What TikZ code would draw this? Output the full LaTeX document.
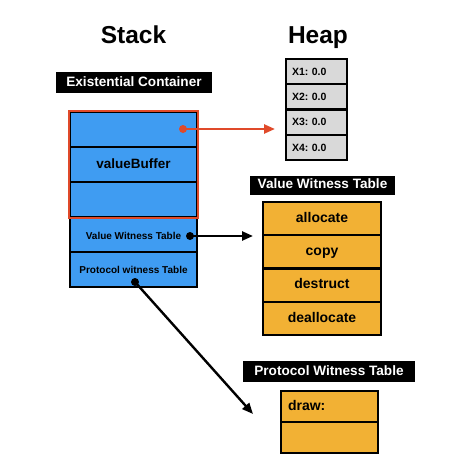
\documentclass[tikz,border=0pt]{standalone}
\usepackage{fontspec}
\setmainfont{Liberation Sans}
\usepackage{xcolor}
\usetikzlibrary{arrows.meta}

\definecolor{stackblue}{HTML}{3F9CF2}
\definecolor{tableorange}{HTML}{F2B134}
\definecolor{heapgray}{HTML}{D9D9D9}
\definecolor{bufferred}{HTML}{E04A2A}

\tikzset{
  cell/.style={draw, line width=2.4pt, text height=0.72em, text depth=0pt},
  stackrow/.style={cell, fill=stackblue, minimum width=127pt, minimum height=35pt, inner sep=0pt},
  heaprow/.style={cell, fill=heapgray, text width=49pt, align=left, inner xsep=6pt, minimum height=25.25pt, inner ysep=0pt, font=\bfseries\fontsize{10.5}{12}\selectfont},
  vwtrow/.style={cell, fill=tableorange, minimum width=118pt, minimum height=33.25pt, inner sep=0pt, font=\bfseries\fontsize{14}{16}\selectfont},
  pwtrow/.style={cell, fill=tableorange, text width=83pt, align=left, inner xsep=7pt, minimum height=31pt, inner ysep=0pt, font=\bfseries\fontsize{14}{16}\selectfont},
  tag/.style={fill=black, text=white, inner sep=0pt, text height=0.72em, text depth=0pt, font=\bfseries\fontsize{13.6}{15}\selectfont},
  heading/.style={font=\bfseries\fontsize{24.5}{28}\selectfont, anchor=base},
  dotmark/.style={circle, fill=black, inner sep=0pt, minimum size=8pt},
  link/.style={line width=2.4pt, -{Triangle[length=11pt, width=9pt]}}
}
\frenchspacing

\begin{document}
\begin{tikzpicture}[x=1pt, y=-1pt]
\useasboundingbox[fill=white] (0,0) rectangle (474,474);

% headings
\node[heading] (stack) at (133.5,43) {Stack};
\node[heading] (heap) at (318,43) {Heap};

% existential container
\node[tag, minimum width=156pt, minimum height=21pt] (ectag) at (134,82.5) {Existential Container};
\node[stackrow] (s1) at (133.5,129.5) {};
\node[stackrow, font=\bfseries\fontsize{13.5}{15}\selectfont] (s2) at (133.5,164.5) {valueBuffer};
\node[stackrow] (s3) at (133.5,199.5) {};
\node[stackrow, font=\bfseries\fontsize{10}{12}\selectfont] (s4) at (133.5,235.5) {Value Witness Table};
\node[stackrow, font=\bfseries\fontsize{10}{12}\selectfont] (s5) at (133.5,269.5) {Protocol witness Table};
\draw[bufferred, line width=2.4pt] (s1.north west) rectangle (s3.south east);

% heap
\node[heaprow] (h1) at (316.5,71.6) {X1: 0.0};
\node[heaprow] (h2) at (316.5,96.9) {X2: 0.0};
\node[heaprow] (h3) at (316.5,122.1) {X3: 0.0};
\node[heaprow] (h4) at (316.5,147.4) {X4: 0.0};

% value witness table
\node[tag, minimum width=145pt, minimum height=19pt] (vwttag) at (322.5,185) {Value Witness Table};
\node[vwtrow] (v1) at (322,218.6) {allocate};
\node[vwtrow] (v2) at (322,251.9) {copy};
\node[vwtrow] (v3) at (322,285.1) {destruct};
\node[vwtrow] (v4) at (322,318.4) {deallocate};

% protocol witness table
\node[tag, minimum width=172pt, minimum height=21pt] (pwttag) at (329,371.5) {Protocol Witness Table};
\node[pwtrow] (p1) at (329.5,406.5) {draw:};
\node[pwtrow] (p2) at (329.5,437.5) {};

% pointers
\coordinate (heapin) at (275,129);
\coordinate (vwtin) at (253,236);
\coordinate (pwtin) at (253,414);
\node[dotmark, fill=bufferred] (bufdot) at (183,129) {};
\node[dotmark] (vwtdot) at (190,236) {};
\node[dotmark] (pwtdot) at (135,282) {};

\draw[link, bufferred] (bufdot.center) -- (heapin);
\draw[link] (vwtdot.center) -- (vwtin);
\draw[link] (pwtdot.center) -- (pwtin);

\end{tikzpicture}
\end{document}
